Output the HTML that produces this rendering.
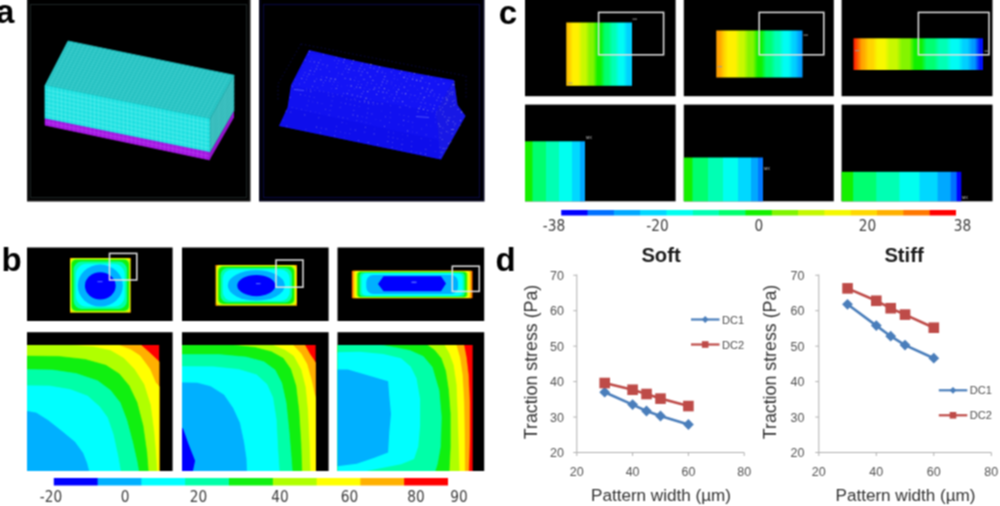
<!DOCTYPE html>
<html lang="en">
<head>
<meta charset="utf-8">
<title>Figure: traction stress finite element model</title>
<style>
html,body{margin:0;padding:0;background:#fff;}
body{width:1000px;height:506px;overflow:hidden;font-family:"Liberation Sans",sans-serif;}
svg{display:block;}
text{font-family:"Liberation Sans",sans-serif;}
.pl{font-size:33px;font-weight:bold;fill:#000;}
.cb{font-size:15.2px;fill:#3a3a3a;text-anchor:middle;font-family:"DejaVu Sans Condensed","Liberation Sans",sans-serif;}
.tk{font-size:12.5px;fill:#505050;text-anchor:middle;}
.lg{font-size:11px;fill:#4a4a4a;}
.ttl{font-size:20.2px;font-weight:bold;fill:#1a1a1a;text-anchor:middle;}
.axl{font-size:17.1px;fill:#303030;text-anchor:middle;}
.ayl{font-size:17.8px;}
</style>
</head>
<body>
<svg width="1000" height="506" viewBox="0 0 1000 506">
<defs>
<filter id="soft" filterUnits="userSpaceOnUse" x="0" y="0" width="1000" height="506" color-interpolation-filters="sRGB">
<feConvolveMatrix order="3" kernelMatrix="1 2 1 2 4 2 1 2 1" divisor="16" edgeMode="duplicate" preserveAlpha="true"/>
</filter>
</defs>
<g filter="url(#soft)">
<rect x="-5" y="-5" width="1010" height="516" fill="#fff"/>
<g id="panel-a">
<rect x="27.00" y="0.00" width="223.50" height="201.50" fill="#141414" />
<rect x="29.00" y="0.00" width="219.50" height="199.50" fill="#000" />
<rect x="30.5" y="4.5" width="216" height="193" fill="none" stroke="#1c2424" stroke-width="1"/>
<polygon points="68.0,41.0 234.0,75.2 210.0,119.0 45.0,85.5" fill="#20bebe" stroke="#20bebe" stroke-width="0.8"/>
<path d="M49.1 86.3L72.2 41.9M53.2 87.2L76.3 42.7M57.4 88.0L80.5 43.6M61.5 88.8L84.6 44.4M65.6 89.7L88.8 45.3M69.8 90.5L92.9 46.1M73.9 91.4L97.0 47.0M78.0 92.2L101.2 47.8M82.1 93.0L105.3 48.7M86.2 93.9L109.5 49.5M90.4 94.7L113.7 50.4M94.5 95.5L117.8 51.3M98.6 96.4L122.0 52.1M102.8 97.2L126.1 53.0M106.9 98.1L130.2 53.8M111.0 98.9L134.4 54.7M115.1 99.7L138.6 55.5M119.2 100.6L142.7 56.4M123.4 101.4L146.8 57.2M127.5 102.2L151.0 58.1M131.6 103.1L155.2 59.0M135.8 103.9L159.3 59.8M139.9 104.8L163.4 60.7M144.0 105.6L167.6 61.5M148.1 106.4L171.8 62.4M152.2 107.3L175.9 63.2M156.4 108.1L180.1 64.1M160.5 109.0L184.2 64.9M164.6 109.8L188.3 65.8M168.8 110.6L192.5 66.7M172.9 111.5L196.7 67.5M177.0 112.3L200.8 68.4M181.1 113.1L204.9 69.2M185.2 114.0L209.1 70.1M189.4 114.8L213.2 70.9M193.5 115.7L217.4 71.8M197.6 116.5L221.6 72.6M201.8 117.3L225.7 73.5M205.9 118.2L229.8 74.3M46.1 83.3L211.2 116.8M47.3 81.0L212.4 114.6M48.5 78.8L213.6 112.4M49.6 76.6L214.8 110.2M50.8 74.4L216.0 108.0M51.9 72.2L217.2 105.9M53.0 69.9L218.4 103.7M54.2 67.7L219.6 101.5M55.4 65.5L220.8 99.3M56.5 63.2L222.0 97.1M57.6 61.0L223.2 94.9M58.8 58.8L224.4 92.7M60.0 56.6L225.6 90.5M61.1 54.4L226.8 88.3M62.2 52.1L228.0 86.2M63.4 49.9L229.2 84.0M64.5 47.7L230.4 81.8M65.7 45.4L231.6 79.6M66.8 43.2L232.8 77.4" stroke="#70e8e8" stroke-width="0.6" opacity="0.5" fill="none"/>
<polygon points="45.0,85.5 210.0,119.0 210.0,152.4 45.0,118.8" fill="#1fe0e0" stroke="#1fe0e0" stroke-width="0.8"/>
<path d="M49.1 86.3L49.1 119.6M53.2 87.2L53.2 120.5M57.4 88.0L57.4 121.3M61.5 88.8L61.5 122.2M65.6 89.7L65.6 123.0M69.8 90.5L69.8 123.8M73.9 91.4L73.9 124.7M78.0 92.2L78.0 125.5M82.1 93.0L82.1 126.4M86.2 93.9L86.2 127.2M90.4 94.7L90.4 128.0M94.5 95.5L94.5 128.9M98.6 96.4L98.6 129.7M102.8 97.2L102.8 130.6M106.9 98.1L106.9 131.4M111.0 98.9L111.0 132.2M115.1 99.7L115.1 133.1M119.2 100.6L119.2 133.9M123.4 101.4L123.4 134.8M127.5 102.2L127.5 135.6M131.6 103.1L131.6 136.4M135.8 103.9L135.8 137.3M139.9 104.8L139.9 138.1M144.0 105.6L144.0 139.0M148.1 106.4L148.1 139.8M152.2 107.3L152.2 140.6M156.4 108.1L156.4 141.5M160.5 109.0L160.5 142.3M164.6 109.8L164.6 143.2M168.8 110.6L168.8 144.0M172.9 111.5L172.9 144.8M177.0 112.3L177.0 145.7M181.1 113.1L181.1 146.5M185.2 114.0L185.2 147.4M189.4 114.8L189.4 148.2M193.5 115.7L193.5 149.0M197.6 116.5L197.6 149.9M201.8 117.3L201.8 150.7M205.9 118.2L205.9 151.6M45.0 89.7L210.0 123.2M45.0 93.8L210.0 127.3M45.0 98.0L210.0 131.5M45.0 102.2L210.0 135.7M45.0 106.3L210.0 139.9M45.0 110.5L210.0 144.1M45.0 114.6L210.0 148.2" stroke="#aaffff" stroke-width="0.5" opacity="0.5" fill="none"/>
<polygon points="45.0,118.8 210.0,152.4 209.6,160.0 45.0,125.2" fill="#a416e2" stroke="#a416e2" stroke-width="0.6"/>
<path d="M49.1 119.6L49.1 126.1M53.2 120.5L53.2 126.9M57.4 121.3L57.3 127.8M61.5 122.2L61.5 128.7M65.6 123.0L65.6 129.6M69.8 123.8L69.7 130.4M73.9 124.7L73.8 131.3M78.0 125.5L77.9 132.2M82.1 126.4L82.0 133.0M86.2 127.2L86.2 133.9M90.4 128.0L90.3 134.8M94.5 128.9L94.4 135.6M98.6 129.7L98.5 136.5M102.8 130.6L102.6 137.4M106.9 131.4L106.7 138.2M111.0 132.2L110.8 139.1M115.1 133.1L115.0 140.0M119.2 133.9L119.1 140.9M123.4 134.8L123.2 141.7M127.5 135.6L127.3 142.6M131.6 136.4L131.4 143.5M135.8 137.3L135.5 144.3M139.9 138.1L139.6 145.2M144.0 139.0L143.8 146.1M148.1 139.8L147.9 146.9M152.2 140.6L152.0 147.8M156.4 141.5L156.1 148.7M160.5 142.3L160.2 149.6M164.6 143.2L164.3 150.4M168.8 144.0L168.4 151.3M172.9 144.8L172.6 152.2M177.0 145.7L176.7 153.0M181.1 146.5L180.8 153.9M185.2 147.4L184.9 154.8M189.4 148.2L189.0 155.7M193.5 149.0L193.1 156.5M197.6 149.9L197.3 157.4M201.8 150.7L201.4 158.3M205.9 151.6L205.5 159.1M45.0 122.0L209.8 156.2" stroke="#d070ff" stroke-width="0.5" opacity="0.5" fill="none"/>
<polygon points="210.0,119.0 234.0,75.2 234.0,111.0 210.0,152.4" fill="#23b0b0" stroke="#23b0b0" stroke-width="0.6"/>
<path d="M211.2 116.8L211.2 150.3M212.4 114.6L212.4 148.3M213.6 112.4L213.6 146.2M214.8 110.2L214.8 144.1M216.0 108.0L216.0 142.1M217.2 105.9L217.2 140.0M218.4 103.7L218.4 137.9M219.6 101.5L219.6 135.8M220.8 99.3L220.8 133.8M222.0 97.1L222.0 131.7M223.2 94.9L223.2 129.6M224.4 92.7L224.4 127.6M225.6 90.5L225.6 125.5M226.8 88.3L226.8 123.4M228.0 86.2L228.0 121.3M229.2 84.0L229.2 119.3M230.4 81.8L230.4 117.2M231.6 79.6L231.6 115.1M232.8 77.4L232.8 113.1M210.0 123.2L234.0 79.7M210.0 127.3L234.0 84.2M210.0 131.5L234.0 88.6M210.0 135.7L234.0 93.1M210.0 139.9L234.0 97.6M210.0 144.1L234.0 102.0M210.0 148.2L234.0 106.5" stroke="#70e0e0" stroke-width="0.5" opacity="0.55" fill="none"/>
<polygon points="210.0,152.4 234.0,111.0 234.0,117.6 209.6,160.0" fill="#9414cc" />
<rect x="259.00" y="0.00" width="225.50" height="201.50" fill="#04041a" />
<rect x="261.00" y="0.00" width="221.50" height="199.50" fill="#000" />
<rect x="263.5" y="4.5" width="216" height="193" fill="none" stroke="#08083c" stroke-width="1.2"/>
<path d="M309 50Q380 67.5 454 80L457.5 105L465.5 116L441 159.5L279 126L287.5 107.5L291 85Z" fill="#1111f0"/>
<path d="M301 44L466 76L466 98M301 44L278 84L278 100" stroke="#0a0a58" stroke-width="1" fill="none" stroke-dasharray="1.5 2.5" opacity=".8"/>
<polygon points="311.0,53.0 452.0,82.0 436.0,112.0 292.0,86.0" fill="#1a1aff" opacity="0.35"/>
<polygon points="287.5,107.5 438.0,140.0 441.0,159.5 279.0,126.0" fill="#0c0ce4" opacity="0.45"/>
<polygon points="454.0,80.0 457.5,105.0 465.5,116.0 441.0,159.5 436.0,112.0" fill="#2222d8" opacity="0.45"/>
<g fill="#c8c8d8">
<circle cx="292.6" cy="86.2" r="0.45" opacity="0.62"/>
<circle cx="294.5" cy="83.7" r="0.45" opacity="0.27"/>
<circle cx="295.3" cy="79.8" r="0.55" opacity="0.28"/>
<circle cx="303.0" cy="65.6" r="0.45" opacity="0.27"/>
<circle cx="305.3" cy="60.0" r="0.55" opacity="0.50"/>
<circle cx="308.7" cy="54.5" r="0.45" opacity="0.50"/>
<circle cx="309.5" cy="51.6" r="0.70" opacity="0.49"/>
<circle cx="299.4" cy="83.9" r="0.45" opacity="0.61"/>
<circle cx="301.8" cy="78.4" r="0.55" opacity="0.58"/>
<circle cx="303.7" cy="75.1" r="0.55" opacity="0.32"/>
<circle cx="305.0" cy="72.6" r="0.70" opacity="0.28"/>
<circle cx="310.0" cy="61.4" r="0.55" opacity="0.28"/>
<circle cx="311.3" cy="58.8" r="0.45" opacity="0.28"/>
<circle cx="304.6" cy="82.4" r="0.45" opacity="0.67"/>
<circle cx="306.2" cy="79.3" r="0.45" opacity="0.60"/>
<circle cx="307.2" cy="76.4" r="0.55" opacity="0.29"/>
<circle cx="309.0" cy="74.1" r="0.55" opacity="0.64"/>
<circle cx="310.2" cy="70.6" r="0.55" opacity="0.68"/>
<circle cx="311.3" cy="67.7" r="0.45" opacity="0.26"/>
<circle cx="314.3" cy="61.9" r="0.70" opacity="0.42"/>
<circle cx="306.5" cy="88.9" r="0.45" opacity="0.46"/>
<circle cx="313.2" cy="74.5" r="0.55" opacity="0.28"/>
<circle cx="314.4" cy="71.3" r="0.55" opacity="0.52"/>
<circle cx="316.2" cy="68.9" r="0.55" opacity="0.53"/>
<circle cx="317.2" cy="65.9" r="0.70" opacity="0.36"/>
<circle cx="318.7" cy="62.8" r="0.55" opacity="0.70"/>
<circle cx="320.3" cy="59.9" r="0.45" opacity="0.59"/>
<circle cx="323.3" cy="54.7" r="0.45" opacity="0.68"/>
<circle cx="310.4" cy="89.7" r="0.45" opacity="0.59"/>
<circle cx="312.4" cy="86.3" r="0.55" opacity="0.48"/>
<circle cx="314.6" cy="81.2" r="0.70" opacity="0.40"/>
<circle cx="316.7" cy="78.9" r="0.45" opacity="0.61"/>
<circle cx="320.5" cy="69.6" r="0.45" opacity="0.70"/>
<circle cx="322.9" cy="64.3" r="0.55" opacity="0.45"/>
<circle cx="314.9" cy="90.2" r="0.45" opacity="0.40"/>
<circle cx="317.2" cy="87.8" r="0.45" opacity="0.47"/>
<circle cx="321.0" cy="79.7" r="0.70" opacity="0.59"/>
<circle cx="321.8" cy="76.7" r="0.55" opacity="0.29"/>
<circle cx="326.6" cy="67.4" r="0.45" opacity="0.33"/>
<circle cx="327.3" cy="65.5" r="0.70" opacity="0.32"/>
<circle cx="319.8" cy="91.0" r="0.45" opacity="0.61"/>
<circle cx="322.8" cy="85.4" r="0.45" opacity="0.62"/>
<circle cx="323.5" cy="82.7" r="0.45" opacity="0.59"/>
<circle cx="325.3" cy="80.5" r="0.45" opacity="0.66"/>
<circle cx="326.5" cy="77.4" r="0.70" opacity="0.44"/>
<circle cx="329.4" cy="71.6" r="0.45" opacity="0.64"/>
<circle cx="334.4" cy="60.4" r="0.45" opacity="0.50"/>
<circle cx="336.2" cy="57.5" r="0.45" opacity="0.65"/>
<circle cx="323.8" cy="91.8" r="0.45" opacity="0.48"/>
<circle cx="329.8" cy="81.0" r="0.70" opacity="0.34"/>
<circle cx="331.0" cy="78.6" r="0.70" opacity="0.67"/>
<circle cx="336.5" cy="67.4" r="0.55" opacity="0.31"/>
<circle cx="337.7" cy="63.5" r="0.45" opacity="0.44"/>
<circle cx="338.9" cy="60.7" r="0.45" opacity="0.67"/>
<circle cx="328.3" cy="92.8" r="0.55" opacity="0.35"/>
<circle cx="331.3" cy="88.2" r="0.45" opacity="0.32"/>
<circle cx="332.7" cy="84.6" r="0.45" opacity="0.41"/>
<circle cx="333.9" cy="81.7" r="0.55" opacity="0.45"/>
<circle cx="335.2" cy="79.3" r="0.70" opacity="0.68"/>
<circle cx="337.3" cy="75.9" r="0.45" opacity="0.29"/>
<circle cx="338.6" cy="73.1" r="0.45" opacity="0.62"/>
<circle cx="343.6" cy="62.1" r="0.55" opacity="0.57"/>
<circle cx="344.4" cy="59.5" r="0.55" opacity="0.65"/>
<circle cx="332.5" cy="93.7" r="0.55" opacity="0.29"/>
<circle cx="336.2" cy="88.5" r="0.55" opacity="0.70"/>
<circle cx="337.6" cy="85.8" r="0.45" opacity="0.49"/>
<circle cx="338.0" cy="82.4" r="0.45" opacity="0.33"/>
<circle cx="342.2" cy="74.3" r="0.70" opacity="0.33"/>
<circle cx="343.3" cy="71.2" r="0.45" opacity="0.26"/>
<circle cx="345.8" cy="68.7" r="0.45" opacity="0.67"/>
<circle cx="347.0" cy="65.8" r="0.55" opacity="0.50"/>
<circle cx="337.2" cy="94.8" r="0.45" opacity="0.62"/>
<circle cx="341.4" cy="86.1" r="0.45" opacity="0.26"/>
<circle cx="345.1" cy="78.3" r="0.55" opacity="0.64"/>
<circle cx="348.0" cy="72.2" r="0.55" opacity="0.33"/>
<circle cx="349.0" cy="69.4" r="0.55" opacity="0.69"/>
<circle cx="350.6" cy="67.3" r="0.55" opacity="0.35"/>
<circle cx="352.1" cy="63.4" r="0.55" opacity="0.48"/>
<circle cx="353.6" cy="60.5" r="0.55" opacity="0.62"/>
<circle cx="342.1" cy="95.9" r="0.55" opacity="0.39"/>
<circle cx="343.4" cy="93.2" r="0.45" opacity="0.55"/>
<circle cx="347.1" cy="85.2" r="0.45" opacity="0.38"/>
<circle cx="350.4" cy="79.3" r="0.70" opacity="0.53"/>
<circle cx="354.0" cy="70.5" r="0.45" opacity="0.62"/>
<circle cx="347.2" cy="93.6" r="0.55" opacity="0.68"/>
<circle cx="349.0" cy="90.7" r="0.45" opacity="0.53"/>
<circle cx="351.2" cy="85.9" r="0.70" opacity="0.67"/>
<circle cx="354.4" cy="80.2" r="0.55" opacity="0.36"/>
<circle cx="355.5" cy="77.4" r="0.45" opacity="0.35"/>
<circle cx="358.8" cy="70.9" r="0.70" opacity="0.38"/>
<circle cx="359.9" cy="68.2" r="0.70" opacity="0.32"/>
<circle cx="361.3" cy="65.5" r="0.70" opacity="0.31"/>
<circle cx="362.3" cy="63.5" r="0.45" opacity="0.56"/>
<circle cx="352.2" cy="94.9" r="0.55" opacity="0.60"/>
<circle cx="354.6" cy="88.8" r="0.55" opacity="0.26"/>
<circle cx="356.6" cy="87.0" r="0.55" opacity="0.70"/>
<circle cx="358.0" cy="84.2" r="0.45" opacity="0.51"/>
<circle cx="358.8" cy="81.4" r="0.45" opacity="0.52"/>
<circle cx="361.0" cy="75.0" r="0.55" opacity="0.65"/>
<circle cx="362.2" cy="71.7" r="0.55" opacity="0.56"/>
<circle cx="364.4" cy="69.4" r="0.55" opacity="0.39"/>
<circle cx="367.0" cy="64.2" r="0.45" opacity="0.67"/>
<circle cx="354.8" cy="99.0" r="0.55" opacity="0.42"/>
<circle cx="357.3" cy="96.0" r="0.55" opacity="0.67"/>
<circle cx="360.1" cy="87.6" r="0.70" opacity="0.67"/>
<circle cx="361.6" cy="84.6" r="0.45" opacity="0.60"/>
<circle cx="364.0" cy="79.2" r="0.55" opacity="0.66"/>
<circle cx="367.4" cy="72.7" r="0.70" opacity="0.43"/>
<circle cx="370.2" cy="67.5" r="0.70" opacity="0.31"/>
<circle cx="370.9" cy="64.5" r="0.70" opacity="0.58"/>
<circle cx="360.8" cy="96.8" r="0.70" opacity="0.43"/>
<circle cx="362.0" cy="93.6" r="0.55" opacity="0.50"/>
<circle cx="363.5" cy="91.4" r="0.55" opacity="0.31"/>
<circle cx="364.5" cy="88.1" r="0.45" opacity="0.39"/>
<circle cx="366.7" cy="85.1" r="0.45" opacity="0.59"/>
<circle cx="367.5" cy="82.7" r="0.55" opacity="0.37"/>
<circle cx="370.3" cy="76.8" r="0.70" opacity="0.48"/>
<circle cx="373.9" cy="68.2" r="0.55" opacity="0.54"/>
<circle cx="375.2" cy="66.0" r="0.45" opacity="0.31"/>
<circle cx="364.6" cy="100.9" r="0.70" opacity="0.47"/>
<circle cx="366.1" cy="98.2" r="0.70" opacity="0.63"/>
<circle cx="367.7" cy="91.6" r="0.70" opacity="0.69"/>
<circle cx="369.8" cy="89.5" r="0.55" opacity="0.29"/>
<circle cx="371.6" cy="83.6" r="0.45" opacity="0.54"/>
<circle cx="372.9" cy="80.4" r="0.70" opacity="0.45"/>
<circle cx="375.7" cy="75.6" r="0.45" opacity="0.42"/>
<circle cx="377.3" cy="71.6" r="0.55" opacity="0.70"/>
<circle cx="378.3" cy="69.8" r="0.45" opacity="0.46"/>
<circle cx="379.5" cy="67.1" r="0.70" opacity="0.54"/>
<circle cx="368.4" cy="101.9" r="0.70" opacity="0.44"/>
<circle cx="370.2" cy="99.1" r="0.45" opacity="0.47"/>
<circle cx="373.8" cy="89.5" r="0.55" opacity="0.58"/>
<circle cx="374.8" cy="87.9" r="0.55" opacity="0.59"/>
<circle cx="376.4" cy="84.2" r="0.55" opacity="0.30"/>
<circle cx="382.1" cy="72.6" r="0.70" opacity="0.32"/>
<circle cx="382.5" cy="70.9" r="0.45" opacity="0.44"/>
<circle cx="373.1" cy="102.6" r="0.55" opacity="0.58"/>
<circle cx="376.6" cy="94.4" r="0.70" opacity="0.46"/>
<circle cx="378.6" cy="91.4" r="0.55" opacity="0.45"/>
<circle cx="379.1" cy="87.7" r="0.55" opacity="0.68"/>
<circle cx="381.4" cy="85.0" r="0.55" opacity="0.60"/>
<circle cx="382.5" cy="82.0" r="0.70" opacity="0.46"/>
<circle cx="383.9" cy="79.3" r="0.55" opacity="0.58"/>
<circle cx="384.9" cy="76.6" r="0.70" opacity="0.60"/>
<circle cx="385.4" cy="73.5" r="0.45" opacity="0.37"/>
<circle cx="377.4" cy="103.8" r="0.70" opacity="0.27"/>
<circle cx="383.0" cy="92.1" r="0.70" opacity="0.68"/>
<circle cx="384.4" cy="88.6" r="0.70" opacity="0.68"/>
<circle cx="386.2" cy="83.4" r="0.55" opacity="0.31"/>
<circle cx="387.2" cy="81.1" r="0.55" opacity="0.62"/>
<circle cx="391.4" cy="71.9" r="0.70" opacity="0.29"/>
<circle cx="393.2" cy="69.0" r="0.45" opacity="0.54"/>
<circle cx="382.1" cy="103.8" r="0.55" opacity="0.65"/>
<circle cx="384.1" cy="98.0" r="0.55" opacity="0.69"/>
<circle cx="386.7" cy="92.8" r="0.70" opacity="0.36"/>
<circle cx="388.7" cy="90.3" r="0.55" opacity="0.38"/>
<circle cx="391.2" cy="84.0" r="0.45" opacity="0.33"/>
<circle cx="391.9" cy="82.0" r="0.45" opacity="0.40"/>
<circle cx="394.1" cy="78.7" r="0.45" opacity="0.54"/>
<circle cx="394.7" cy="75.3" r="0.45" opacity="0.46"/>
<circle cx="387.6" cy="101.8" r="0.45" opacity="0.52"/>
<circle cx="389.8" cy="96.6" r="0.45" opacity="0.45"/>
<circle cx="391.9" cy="94.3" r="0.45" opacity="0.54"/>
<circle cx="393.5" cy="87.9" r="0.45" opacity="0.34"/>
<circle cx="395.5" cy="85.4" r="0.45" opacity="0.62"/>
<circle cx="397.7" cy="79.7" r="0.45" opacity="0.34"/>
<circle cx="399.9" cy="73.4" r="0.55" opacity="0.55"/>
<circle cx="401.7" cy="71.3" r="0.55" opacity="0.56"/>
<circle cx="390.7" cy="105.8" r="0.45" opacity="0.39"/>
<circle cx="393.4" cy="100.8" r="0.55" opacity="0.54"/>
<circle cx="394.6" cy="98.0" r="0.55" opacity="0.66"/>
<circle cx="396.4" cy="94.6" r="0.55" opacity="0.46"/>
<circle cx="396.7" cy="91.9" r="0.70" opacity="0.61"/>
<circle cx="398.6" cy="89.5" r="0.70" opacity="0.48"/>
<circle cx="399.5" cy="86.2" r="0.45" opacity="0.30"/>
<circle cx="401.4" cy="83.9" r="0.45" opacity="0.39"/>
<circle cx="404.0" cy="77.4" r="0.70" opacity="0.67"/>
<circle cx="405.2" cy="75.0" r="0.45" opacity="0.54"/>
<circle cx="397.9" cy="101.3" r="0.45" opacity="0.43"/>
<circle cx="399.0" cy="98.0" r="0.45" opacity="0.69"/>
<circle cx="402.1" cy="93.2" r="0.70" opacity="0.27"/>
<circle cx="404.3" cy="87.1" r="0.70" opacity="0.60"/>
<circle cx="406.3" cy="81.3" r="0.55" opacity="0.45"/>
<circle cx="407.3" cy="78.7" r="0.55" opacity="0.46"/>
<circle cx="409.3" cy="76.1" r="0.45" opacity="0.61"/>
<circle cx="409.8" cy="72.7" r="0.55" opacity="0.29"/>
<circle cx="399.9" cy="107.3" r="0.70" opacity="0.31"/>
<circle cx="402.6" cy="101.6" r="0.70" opacity="0.65"/>
<circle cx="405.6" cy="93.8" r="0.70" opacity="0.62"/>
<circle cx="407.9" cy="90.8" r="0.45" opacity="0.56"/>
<circle cx="410.2" cy="85.3" r="0.55" opacity="0.32"/>
<circle cx="412.6" cy="79.1" r="0.70" opacity="0.68"/>
<circle cx="413.6" cy="76.8" r="0.45" opacity="0.39"/>
<circle cx="414.3" cy="73.4" r="0.55" opacity="0.56"/>
<circle cx="405.9" cy="105.4" r="0.70" opacity="0.27"/>
<circle cx="409.3" cy="97.6" r="0.45" opacity="0.36"/>
<circle cx="410.9" cy="94.8" r="0.55" opacity="0.37"/>
<circle cx="414.5" cy="86.0" r="0.45" opacity="0.53"/>
<circle cx="416.7" cy="80.2" r="0.70" opacity="0.67"/>
<circle cx="409.8" cy="107.0" r="0.55" opacity="0.48"/>
<circle cx="412.1" cy="101.3" r="0.45" opacity="0.27"/>
<circle cx="414.9" cy="95.5" r="0.55" opacity="0.51"/>
<circle cx="417.5" cy="89.8" r="0.45" opacity="0.26"/>
<circle cx="420.5" cy="80.9" r="0.70" opacity="0.60"/>
<circle cx="422.0" cy="77.9" r="0.70" opacity="0.62"/>
<circle cx="416.9" cy="101.6" r="0.45" opacity="0.27"/>
<circle cx="418.0" cy="98.9" r="0.45" opacity="0.66"/>
<circle cx="419.5" cy="96.6" r="0.45" opacity="0.31"/>
<circle cx="420.7" cy="93.6" r="0.70" opacity="0.44"/>
<circle cx="422.4" cy="88.0" r="0.70" opacity="0.60"/>
<circle cx="425.8" cy="82.5" r="0.55" opacity="0.29"/>
<circle cx="428.4" cy="76.3" r="0.70" opacity="0.27"/>
<circle cx="418.0" cy="111.7" r="0.55" opacity="0.57"/>
<circle cx="419.0" cy="108.5" r="0.70" opacity="0.69"/>
<circle cx="420.7" cy="106.3" r="0.45" opacity="0.65"/>
<circle cx="421.1" cy="102.6" r="0.70" opacity="0.34"/>
<circle cx="423.0" cy="99.8" r="0.55" opacity="0.40"/>
<circle cx="424.2" cy="97.4" r="0.70" opacity="0.69"/>
<circle cx="426.1" cy="91.7" r="0.45" opacity="0.64"/>
<circle cx="427.6" cy="88.9" r="0.55" opacity="0.61"/>
<circle cx="428.7" cy="86.0" r="0.45" opacity="0.32"/>
<circle cx="429.3" cy="83.6" r="0.55" opacity="0.69"/>
<circle cx="431.7" cy="77.6" r="0.45" opacity="0.56"/>
<circle cx="423.5" cy="109.4" r="0.70" opacity="0.65"/>
<circle cx="425.0" cy="107.2" r="0.55" opacity="0.30"/>
<circle cx="425.3" cy="103.3" r="0.70" opacity="0.29"/>
<circle cx="428.9" cy="95.7" r="0.70" opacity="0.34"/>
<circle cx="430.5" cy="92.0" r="0.55" opacity="0.67"/>
<circle cx="432.1" cy="90.2" r="0.70" opacity="0.48"/>
<circle cx="435.2" cy="81.1" r="0.45" opacity="0.41"/>
<circle cx="426.3" cy="113.7" r="0.45" opacity="0.51"/>
<circle cx="427.7" cy="110.5" r="0.55" opacity="0.59"/>
<circle cx="430.2" cy="104.8" r="0.45" opacity="0.69"/>
<circle cx="433.9" cy="95.9" r="0.45" opacity="0.67"/>
<circle cx="434.6" cy="94.0" r="0.45" opacity="0.47"/>
<circle cx="438.3" cy="84.5" r="0.55" opacity="0.65"/>
<circle cx="441.1" cy="79.1" r="0.55" opacity="0.37"/>
<circle cx="432.1" cy="111.8" r="0.45" opacity="0.67"/>
<circle cx="433.6" cy="108.7" r="0.70" opacity="0.54"/>
<circle cx="434.4" cy="105.3" r="0.55" opacity="0.55"/>
<circle cx="436.9" cy="100.3" r="0.70" opacity="0.35"/>
<circle cx="438.4" cy="97.4" r="0.70" opacity="0.34"/>
<circle cx="439.6" cy="94.8" r="0.45" opacity="0.58"/>
<circle cx="443.8" cy="83.6" r="0.55" opacity="0.69"/>
<circle cx="436.1" cy="114.6" r="0.55" opacity="0.32"/>
<circle cx="436.5" cy="112.0" r="0.55" opacity="0.34"/>
<circle cx="438.7" cy="106.5" r="0.45" opacity="0.26"/>
<circle cx="441.1" cy="101.5" r="0.55" opacity="0.46"/>
<circle cx="442.7" cy="98.0" r="0.70" opacity="0.36"/>
<circle cx="444.3" cy="104.2" r="0.55" opacity="0.39"/>
<circle cx="446.9" cy="99.3" r="0.70" opacity="0.57"/>
<circle cx="448.6" cy="96.1" r="0.45" opacity="0.53"/>
<circle cx="449.5" cy="93.8" r="0.45" opacity="0.65"/>
<circle cx="449.9" cy="90.9" r="0.45" opacity="0.27"/>
<circle cx="451.3" cy="88.0" r="0.45" opacity="0.48"/>
<circle cx="452.9" cy="84.9" r="0.70" opacity="0.46"/>
<circle cx="454.4" cy="81.8" r="0.55" opacity="0.43"/>
<circle cx="283.4" cy="120.4" r="0.45" opacity="0.34"/>
<circle cx="286.1" cy="111.1" r="0.55" opacity="0.42"/>
<circle cx="288.9" cy="101.9" r="0.45" opacity="0.20"/>
<circle cx="290.2" cy="97.2" r="0.55" opacity="0.42"/>
<circle cx="286.8" cy="126.0" r="0.55" opacity="0.46"/>
<circle cx="290.8" cy="112.1" r="0.55" opacity="0.36"/>
<circle cx="292.1" cy="107.4" r="0.45" opacity="0.48"/>
<circle cx="297.5" cy="88.9" r="0.45" opacity="0.32"/>
<circle cx="296.7" cy="108.4" r="0.45" opacity="0.47"/>
<circle cx="300.6" cy="94.5" r="0.55" opacity="0.44"/>
<circle cx="301.4" cy="109.3" r="0.55" opacity="0.31"/>
<circle cx="305.1" cy="95.4" r="0.55" opacity="0.25"/>
<circle cx="306.4" cy="90.7" r="0.55" opacity="0.22"/>
<circle cx="304.8" cy="114.9" r="0.55" opacity="0.42"/>
<circle cx="306.0" cy="110.3" r="0.45" opacity="0.27"/>
<circle cx="307.2" cy="105.6" r="0.55" opacity="0.29"/>
<circle cx="308.4" cy="100.9" r="0.45" opacity="0.50"/>
<circle cx="309.6" cy="96.3" r="0.55" opacity="0.32"/>
<circle cx="310.8" cy="91.6" r="0.55" opacity="0.48"/>
<circle cx="305.9" cy="129.8" r="0.45" opacity="0.43"/>
<circle cx="310.6" cy="111.2" r="0.45" opacity="0.39"/>
<circle cx="312.9" cy="101.9" r="0.45" opacity="0.39"/>
<circle cx="314.1" cy="97.2" r="0.45" opacity="0.49"/>
<circle cx="315.2" cy="112.1" r="0.45" opacity="0.39"/>
<circle cx="317.5" cy="102.8" r="0.55" opacity="0.36"/>
<circle cx="316.6" cy="127.1" r="0.55" opacity="0.55"/>
<circle cx="318.8" cy="117.8" r="0.55" opacity="0.42"/>
<circle cx="319.8" cy="113.1" r="0.45" opacity="0.44"/>
<circle cx="322.0" cy="103.7" r="0.45" opacity="0.38"/>
<circle cx="320.3" cy="132.8" r="0.55" opacity="0.42"/>
<circle cx="321.3" cy="128.1" r="0.55" opacity="0.32"/>
<circle cx="325.5" cy="109.3" r="0.55" opacity="0.35"/>
<circle cx="328.6" cy="95.3" r="0.55" opacity="0.34"/>
<circle cx="326.1" cy="129.0" r="0.55" opacity="0.54"/>
<circle cx="329.1" cy="115.0" r="0.55" opacity="0.45"/>
<circle cx="330.1" cy="110.3" r="0.45" opacity="0.47"/>
<circle cx="331.1" cy="105.6" r="0.55" opacity="0.39"/>
<circle cx="332.1" cy="100.9" r="0.55" opacity="0.24"/>
<circle cx="333.1" cy="96.2" r="0.55" opacity="0.41"/>
<circle cx="334.7" cy="135.7" r="0.55" opacity="0.42"/>
<circle cx="335.6" cy="131.0" r="0.45" opacity="0.50"/>
<circle cx="336.5" cy="126.2" r="0.45" opacity="0.52"/>
<circle cx="338.3" cy="116.8" r="0.45" opacity="0.48"/>
<circle cx="340.2" cy="107.4" r="0.55" opacity="0.26"/>
<circle cx="341.1" cy="102.7" r="0.45" opacity="0.35"/>
<circle cx="340.3" cy="131.9" r="0.45" opacity="0.49"/>
<circle cx="342.1" cy="122.5" r="0.55" opacity="0.36"/>
<circle cx="343.0" cy="117.8" r="0.55" opacity="0.41"/>
<circle cx="345.6" cy="103.6" r="0.55" opacity="0.39"/>
<circle cx="346.5" cy="98.9" r="0.55" opacity="0.27"/>
<circle cx="344.2" cy="137.6" r="0.45" opacity="0.35"/>
<circle cx="345.1" cy="132.9" r="0.45" opacity="0.55"/>
<circle cx="346.7" cy="123.4" r="0.45" opacity="0.25"/>
<circle cx="347.6" cy="118.7" r="0.45" opacity="0.36"/>
<circle cx="350.1" cy="104.5" r="0.45" opacity="0.46"/>
<circle cx="350.9" cy="99.8" r="0.55" opacity="0.36"/>
<circle cx="349.8" cy="133.8" r="0.45" opacity="0.45"/>
<circle cx="350.6" cy="129.1" r="0.45" opacity="0.51"/>
<circle cx="353.0" cy="114.9" r="0.55" opacity="0.46"/>
<circle cx="353.8" cy="110.2" r="0.55" opacity="0.41"/>
<circle cx="354.6" cy="105.5" r="0.55" opacity="0.36"/>
<circle cx="355.4" cy="100.7" r="0.45" opacity="0.33"/>
<circle cx="355.3" cy="130.1" r="0.55" opacity="0.47"/>
<circle cx="356.8" cy="120.6" r="0.55" opacity="0.30"/>
<circle cx="357.6" cy="115.9" r="0.55" opacity="0.50"/>
<circle cx="359.1" cy="106.4" r="0.45" opacity="0.41"/>
<circle cx="359.8" cy="101.6" r="0.55" opacity="0.54"/>
<circle cx="358.6" cy="140.5" r="0.55" opacity="0.44"/>
<circle cx="361.4" cy="121.5" r="0.45" opacity="0.31"/>
<circle cx="362.1" cy="116.8" r="0.45" opacity="0.41"/>
<circle cx="364.3" cy="102.5" r="0.45" opacity="0.48"/>
<circle cx="364.7" cy="132.0" r="0.55" opacity="0.32"/>
<circle cx="365.4" cy="127.2" r="0.55" opacity="0.48"/>
<circle cx="366.1" cy="122.5" r="0.45" opacity="0.31"/>
<circle cx="366.7" cy="117.7" r="0.55" opacity="0.36"/>
<circle cx="367.4" cy="113.0" r="0.55" opacity="0.41"/>
<circle cx="368.1" cy="108.2" r="0.55" opacity="0.36"/>
<circle cx="368.7" cy="103.5" r="0.55" opacity="0.47"/>
<circle cx="368.2" cy="142.5" r="0.55" opacity="0.51"/>
<circle cx="370.7" cy="123.4" r="0.45" opacity="0.23"/>
<circle cx="371.9" cy="113.9" r="0.55" opacity="0.34"/>
<circle cx="373.2" cy="104.4" r="0.45" opacity="0.52"/>
<circle cx="374.1" cy="133.9" r="0.55" opacity="0.48"/>
<circle cx="374.7" cy="129.1" r="0.45" opacity="0.32"/>
<circle cx="375.9" cy="119.6" r="0.45" opacity="0.27"/>
<circle cx="377.8" cy="144.4" r="0.55" opacity="0.35"/>
<circle cx="380.5" cy="120.5" r="0.45" opacity="0.32"/>
<circle cx="381.5" cy="111.0" r="0.45" opacity="0.22"/>
<circle cx="384.5" cy="126.2" r="0.55" opacity="0.52"/>
<circle cx="385.5" cy="116.7" r="0.55" opacity="0.40"/>
<circle cx="387.8" cy="141.5" r="0.55" opacity="0.50"/>
<circle cx="388.2" cy="136.8" r="0.45" opacity="0.55"/>
<circle cx="388.7" cy="132.0" r="0.45" opacity="0.53"/>
<circle cx="389.6" cy="122.4" r="0.45" opacity="0.49"/>
<circle cx="390.1" cy="117.6" r="0.55" opacity="0.22"/>
<circle cx="390.5" cy="112.8" r="0.45" opacity="0.53"/>
<circle cx="392.1" cy="147.3" r="0.55" opacity="0.47"/>
<circle cx="392.5" cy="142.5" r="0.55" opacity="0.33"/>
<circle cx="393.0" cy="137.7" r="0.55" opacity="0.37"/>
<circle cx="393.4" cy="132.9" r="0.45" opacity="0.48"/>
<circle cx="396.9" cy="148.3" r="0.45" opacity="0.23"/>
<circle cx="397.7" cy="138.7" r="0.45" opacity="0.47"/>
<circle cx="398.8" cy="124.2" r="0.45" opacity="0.42"/>
<circle cx="399.5" cy="114.6" r="0.45" opacity="0.37"/>
<circle cx="401.7" cy="149.2" r="0.45" opacity="0.46"/>
<circle cx="402.0" cy="144.4" r="0.55" opacity="0.39"/>
<circle cx="402.4" cy="139.6" r="0.45" opacity="0.29"/>
<circle cx="402.7" cy="134.8" r="0.45" opacity="0.21"/>
<circle cx="403.4" cy="125.2" r="0.45" opacity="0.29"/>
<circle cx="403.7" cy="120.4" r="0.55" opacity="0.52"/>
<circle cx="404.0" cy="115.5" r="0.45" opacity="0.42"/>
<circle cx="407.4" cy="135.7" r="0.45" opacity="0.54"/>
<circle cx="407.7" cy="130.9" r="0.55" opacity="0.55"/>
<circle cx="408.2" cy="121.3" r="0.55" opacity="0.35"/>
<circle cx="408.5" cy="116.5" r="0.55" opacity="0.25"/>
<circle cx="411.3" cy="151.2" r="0.55" opacity="0.38"/>
<circle cx="411.5" cy="146.4" r="0.55" opacity="0.27"/>
<circle cx="411.8" cy="141.5" r="0.55" opacity="0.28"/>
<circle cx="412.3" cy="131.9" r="0.45" opacity="0.38"/>
<circle cx="412.5" cy="127.0" r="0.45" opacity="0.27"/>
<circle cx="412.8" cy="122.2" r="0.45" opacity="0.51"/>
<circle cx="416.1" cy="152.2" r="0.45" opacity="0.41"/>
<circle cx="416.9" cy="132.8" r="0.45" opacity="0.44"/>
<circle cx="420.8" cy="153.1" r="0.55" opacity="0.49"/>
<circle cx="421.3" cy="138.6" r="0.55" opacity="0.25"/>
<circle cx="421.7" cy="128.9" r="0.55" opacity="0.21"/>
<circle cx="425.6" cy="154.1" r="0.55" opacity="0.54"/>
<circle cx="425.8" cy="149.2" r="0.55" opacity="0.45"/>
<circle cx="426.1" cy="134.7" r="0.55" opacity="0.40"/>
<circle cx="426.4" cy="125.0" r="0.45" opacity="0.53"/>
<circle cx="430.6" cy="145.3" r="0.45" opacity="0.28"/>
<circle cx="430.7" cy="140.5" r="0.45" opacity="0.31"/>
<circle cx="430.9" cy="125.9" r="0.45" opacity="0.29"/>
<circle cx="435.3" cy="151.2" r="0.55" opacity="0.24"/>
<circle cx="435.4" cy="136.6" r="0.45" opacity="0.36"/>
<circle cx="435.5" cy="122.0" r="0.45" opacity="0.34"/>
<circle cx="435.5" cy="117.1" r="0.45" opacity="0.50"/>
<circle cx="440.0" cy="157.0" r="0.55" opacity="0.46"/>
<circle cx="440.0" cy="152.1" r="0.45" opacity="0.53"/>
<circle cx="440.0" cy="147.2" r="0.55" opacity="0.41"/>
<circle cx="440.0" cy="137.5" r="0.45" opacity="0.47"/>
<circle cx="440.0" cy="132.6" r="0.45" opacity="0.49"/>
<circle cx="447.6" cy="124.4" r="0.50" opacity="0.45"/>
<circle cx="441.5" cy="133.0" r="0.50" opacity="0.46"/>
<circle cx="442.5" cy="107.4" r="0.50" opacity="0.39"/>
<circle cx="454.1" cy="100.2" r="0.50" opacity="0.49"/>
<circle cx="453.0" cy="129.2" r="0.50" opacity="0.66"/>
<circle cx="440.7" cy="109.0" r="0.50" opacity="0.38"/>
<circle cx="440.0" cy="126.5" r="0.50" opacity="0.72"/>
<circle cx="448.6" cy="120.8" r="0.50" opacity="0.70"/>
<circle cx="460.0" cy="125.6" r="0.50" opacity="0.42"/>
<circle cx="444.9" cy="116.7" r="0.50" opacity="0.61"/>
<circle cx="443.3" cy="111.8" r="0.50" opacity="0.55"/>
<circle cx="446.8" cy="148.2" r="0.50" opacity="0.44"/>
<circle cx="449.5" cy="143.0" r="0.50" opacity="0.31"/>
<circle cx="446.0" cy="97.6" r="0.50" opacity="0.55"/>
<circle cx="461.3" cy="112.5" r="0.50" opacity="0.72"/>
<circle cx="441.9" cy="152.5" r="0.50" opacity="0.45"/>
<circle cx="445.8" cy="103.4" r="0.50" opacity="0.70"/>
<circle cx="438.5" cy="123.7" r="0.50" opacity="0.57"/>
<circle cx="446.4" cy="131.4" r="0.50" opacity="0.53"/>
<circle cx="458.0" cy="109.5" r="0.50" opacity="0.64"/>
<circle cx="448.0" cy="132.1" r="0.50" opacity="0.36"/>
<circle cx="442.9" cy="128.0" r="0.50" opacity="0.42"/>
<circle cx="453.1" cy="129.5" r="0.50" opacity="0.62"/>
<circle cx="447.9" cy="91.4" r="0.50" opacity="0.48"/>
<circle cx="451.2" cy="92.5" r="0.50" opacity="0.48"/>
<circle cx="452.9" cy="92.0" r="0.50" opacity="0.68"/>
<circle cx="454.6" cy="104.7" r="0.50" opacity="0.46"/>
<circle cx="446.5" cy="121.9" r="0.50" opacity="0.57"/>
<circle cx="453.6" cy="84.5" r="0.50" opacity="0.64"/>
<circle cx="461.8" cy="111.4" r="0.50" opacity="0.44"/>
<circle cx="450.9" cy="141.8" r="0.50" opacity="0.50"/>
<circle cx="447.0" cy="100.7" r="0.50" opacity="0.67"/>
<circle cx="452.6" cy="101.5" r="0.50" opacity="0.45"/>
<circle cx="444.2" cy="148.5" r="0.50" opacity="0.43"/>
<circle cx="450.9" cy="106.5" r="0.50" opacity="0.58"/>
<circle cx="448.5" cy="143.4" r="0.50" opacity="0.63"/>
<circle cx="448.3" cy="117.4" r="0.50" opacity="0.32"/>
<circle cx="454.2" cy="116.6" r="0.50" opacity="0.30"/>
<circle cx="447.8" cy="120.1" r="0.50" opacity="0.59"/>
<circle cx="442.5" cy="114.3" r="0.50" opacity="0.48"/>
<circle cx="452.1" cy="133.8" r="0.50" opacity="0.64"/>
<circle cx="440.2" cy="110.1" r="0.50" opacity="0.46"/>
<circle cx="439.8" cy="106.4" r="0.50" opacity="0.38"/>
<circle cx="453.7" cy="105.2" r="0.50" opacity="0.45"/>
<circle cx="460.4" cy="120.6" r="0.50" opacity="0.74"/>
<circle cx="453.1" cy="121.7" r="0.50" opacity="0.67"/>
<circle cx="443.0" cy="148.3" r="0.50" opacity="0.49"/>
<circle cx="439.4" cy="124.7" r="0.50" opacity="0.35"/>
<circle cx="451.7" cy="129.5" r="0.50" opacity="0.63"/>
<circle cx="454.6" cy="84.8" r="0.50" opacity="0.30"/>
<circle cx="455.1" cy="123.8" r="0.50" opacity="0.71"/>
<circle cx="442.2" cy="139.4" r="0.50" opacity="0.56"/>
<circle cx="450.3" cy="94.3" r="0.50" opacity="0.39"/>
<circle cx="452.4" cy="94.5" r="0.50" opacity="0.53"/>
<circle cx="449.8" cy="117.7" r="0.50" opacity="0.49"/>
<circle cx="454.4" cy="125.7" r="0.50" opacity="0.36"/>
</g>
<path d="M294 89.5L304 90.5M416 116.5L429 117.5" stroke="#8890ff" stroke-width="1" opacity="0.5"/>
</g>
<g id="panel-b">
<rect x="27.00" y="247.50" width="145.60" height="73.50" fill="#000" />
<rect x="27.00" y="332.20" width="145.60" height="138.80" fill="#000" />
<rect x="182.00" y="247.50" width="146.60" height="73.50" fill="#000" />
<rect x="182.00" y="332.20" width="146.60" height="138.80" fill="#000" />
<rect x="337.50" y="247.50" width="146.70" height="73.50" fill="#000" />
<rect x="337.50" y="332.20" width="146.70" height="138.80" fill="#000" />
<g>
<rect x="70.00" y="258.00" width="60.50" height="54.50" fill="#f0f000" />
<rect x="70.00" y="258.00" width="2.20" height="2.20" fill="#ff9000" />
<rect x="128.30" y="258.00" width="2.20" height="2.20" fill="#ff9000" />
<rect x="70.00" y="310.30" width="2.20" height="2.20" fill="#ff9000" />
<rect x="128.30" y="310.30" width="2.20" height="2.20" fill="#ff9000" />
<rect x="70.30" y="258.30" width="59.90" height="53.90" rx="2.0" ry="2.0" fill="#f4f400"/>
<rect x="70.60" y="258.60" width="59.30" height="53.30" rx="3.0" ry="3.0" fill="#e0f800"/>
<rect x="71.00" y="259.00" width="58.50" height="52.50" rx="4.0" ry="4.0" fill="#b0ff00"/>
<rect x="71.50" y="259.50" width="57.50" height="51.50" rx="5.0" ry="5.0" fill="#10f010"/>
<rect x="73.60" y="261.60" width="53.30" height="47.30" rx="8.0" ry="8.0" fill="#00ffa8"/>
<rect x="75.80" y="263.80" width="48.90" height="42.90" rx="11.0" ry="11.0" fill="#00ffff"/>
<ellipse cx="100.3" cy="285.6" rx="22.5" ry="21" fill="#00b0ff"/>
<ellipse cx="100.3" cy="285.8" rx="15.4" ry="13.6" fill="#0000ff"/>
<rect x="97.5" y="281" width="5" height="1.2" fill="#7090ff" opacity=".7"/>
</g>
<rect x="109.5" y="253.4" width="27.3" height="26.6" fill="none" stroke="#e4e4e4" stroke-width="1.5"/>
<g>
<rect x="215.80" y="265.00" width="81.00" height="40.50" fill="#f0f000" />
<rect x="215.80" y="265.00" width="1.00" height="40.50" fill="#ffb800" />
<rect x="295.80" y="265.00" width="1.00" height="40.50" fill="#ffb800" />
<rect x="215.80" y="265.00" width="2.40" height="2.40" fill="#ff7000" />
<rect x="294.40" y="265.00" width="2.40" height="2.40" fill="#ff7000" />
<rect x="215.80" y="303.10" width="2.40" height="2.40" fill="#ff7000" />
<rect x="294.40" y="303.10" width="2.40" height="2.40" fill="#ff7000" />
<rect x="216.50" y="265.30" width="79.60" height="39.90" rx="2.0" ry="2.0" fill="#f4f400"/>
<rect x="217.00" y="265.60" width="78.60" height="39.30" rx="3.0" ry="3.0" fill="#e8f800"/>
<rect x="217.60" y="266.00" width="77.40" height="38.50" rx="4.0" ry="4.0" fill="#b0ff00"/>
<rect x="218.40" y="266.50" width="75.80" height="37.50" rx="5.0" ry="5.0" fill="#10f010"/>
<rect x="220.60" y="268.00" width="71.40" height="34.50" rx="7.0" ry="7.0" fill="#00ffa8"/>
<rect x="222.80" y="269.60" width="67.00" height="31.30" rx="9.0" ry="9.0" fill="#00ffff"/>
<ellipse cx="256.3" cy="285.4" rx="28.5" ry="15.2" fill="#00b0ff"/>
<ellipse cx="256.3" cy="285.6" rx="19" ry="10.6" fill="#0000ff"/>
<rect x="256" y="283" width="4.5" height="1.2" fill="#7090ff" opacity=".7"/>
</g>
<rect x="276" y="260" width="27" height="27.2" fill="none" stroke="#e4e4e4" stroke-width="1.5"/>
<g>
<rect x="351.80" y="270.80" width="120.70" height="27.40" fill="#ff5000" />
<rect x="352.70" y="270.80" width="118.90" height="27.40" rx="1.0" ry="1.0" fill="#ffb000"/>
<rect x="354.40" y="271.10" width="115.50" height="26.80" rx="2.0" ry="2.0" fill="#ffff00"/>
<rect x="356.20" y="271.40" width="111.90" height="26.20" rx="3.0" ry="3.0" fill="#b0ff00"/>
<rect x="357.60" y="271.80" width="109.10" height="25.40" rx="3.0" ry="3.0" fill="#10f010"/>
<rect x="359.60" y="272.50" width="105.10" height="24.00" rx="4.0" ry="4.0" fill="#00ffa8"/>
<rect x="361.60" y="273.10" width="101.10" height="22.80" rx="5.0" ry="5.0" fill="#00ffff"/>
<rect x="366.30" y="275.00" width="91.70" height="19.00" rx="7.0" ry="7.0" fill="#00b0ff"/>
<polygon points="378.0,284.0 383.5,276.2 441.0,276.2 446.0,283.5 441.0,291.2 383.5,291.2" fill="#0000ff" />
<rect x="411.5" y="281.5" width="5" height="1.6" fill="#7090ff" opacity=".7"/>
</g>
<rect x="452.3" y="266.2" width="27" height="25.2" fill="none" stroke="#e4e4e4" stroke-width="1.5"/>
<clipPath id="cm1"><rect x="27.00" y="345.00" width="132.40" height="126.00"/></clipPath>
<g clip-path="url(#cm1)">
<rect x="27.00" y="345.00" width="132.40" height="126.00" fill="#ff0000" />
<polygon points="140.9,345.1 150.4,353.4 160.4,362.9 160.4,476.0 22.0,476.0 22.0,340.0 140.9,340.0" fill="#ffb000" stroke="#ffb000" stroke-width="0.6" stroke-linejoin="round"/>
<polygon points="118.7,345.1 131.1,349.9 140.0,355.8 149.8,368.9 155.7,382.8 160.4,387.8 160.4,476.0 22.0,476.0 22.0,340.0 118.7,340.0" fill="#ffff00" stroke="#ffff00" stroke-width="0.6" stroke-linejoin="round"/>
<polygon points="69.8,345.1 94.1,346.9 110.4,350.5 123.7,358.2 134.1,368.9 143.9,384.3 150.4,405.0 153.9,431.7 155.7,452.4 156.9,471.7 156.9,476.0 22.0,476.0 22.0,340.0 69.8,340.0" fill="#b0ff00" stroke="#b0ff00" stroke-width="0.6" stroke-linejoin="round"/>
<polygon points="25.3,356.1 58.5,356.4 85.2,359.4 105.9,365.3 119.3,373.9 129.0,385.7 137.0,402.6 143.0,425.7 146.8,452.4 148.3,471.7 148.3,476.0 22.0,476.0 22.0,356.1" fill="#10f010" stroke="#10f010" stroke-width="0.6" stroke-linejoin="round"/>
<polygon points="25.3,369.4 52.6,370.0 76.3,373.6 97.6,380.7 110.4,390.2 120.1,402.6 126.7,419.8 132.6,442.0 137.0,461.3 138.8,471.7 138.8,476.0 22.0,476.0 22.0,369.4" fill="#00ffa8" stroke="#00ffa8" stroke-width="0.6" stroke-linejoin="round"/>
<polygon points="25.3,385.7 49.6,386.0 70.4,389.6 87.6,396.1 99.4,406.5 107.4,417.4 113.3,434.6 117.8,455.4 120.7,471.7 120.7,476.0 22.0,476.0 22.0,385.7" fill="#00ffff" stroke="#00ffff" stroke-width="0.6" stroke-linejoin="round"/>
<polygon points="25.3,410.9 36.3,413.0 48.1,420.4 61.5,431.1 74.8,442.0 82.8,453.0 86.7,462.8 89.0,471.7 89.0,476.0 22.0,476.0 22.0,410.9" fill="#00b0ff" stroke="#00b0ff" stroke-width="0.6" stroke-linejoin="round"/>
</g>
<clipPath id="cm2"><rect x="182.00" y="345.00" width="133.80" height="126.00"/></clipPath>
<g clip-path="url(#cm2)">
<rect x="182.00" y="345.00" width="133.80" height="126.00" fill="#ff0000" />
<polygon points="304.8,345.1 309.8,354.0 316.6,364.1 316.6,476.0 177.0,476.0 177.0,340.0 304.8,340.0" fill="#ffb000" stroke="#ffb000" stroke-width="0.6" stroke-linejoin="round"/>
<polygon points="292.9,345.1 300.9,353.4 306.9,364.1 311.3,379.8 314.3,393.1 316.6,400.6 316.6,476.0 177.0,476.0 177.0,340.0 292.9,340.0" fill="#ffff00" stroke="#ffff00" stroke-width="0.6" stroke-linejoin="round"/>
<polygon points="272.2,345.1 284.6,349.9 293.5,356.1 300.9,369.4 305.4,387.2 307.7,410.9 309.2,443.5 310.1,471.7 310.1,476.0 177.0,476.0 177.0,340.0 272.2,340.0" fill="#b0ff00" stroke="#b0ff00" stroke-width="0.6" stroke-linejoin="round"/>
<polygon points="232.8,345.1 255.0,347.5 271.3,351.7 283.1,358.2 290.6,368.9 295.9,385.7 298.9,410.9 300.9,443.5 301.8,471.7 301.8,476.0 177.0,476.0 177.0,340.0 232.8,340.0" fill="#10f010" stroke="#10f010" stroke-width="0.6" stroke-linejoin="round"/>
<polygon points="180.3,354.6 219.4,354.6 246.1,357.0 263.9,361.7 275.1,370.0 281.7,382.8 286.1,402.6 289.1,431.7 291.1,455.4 292.3,471.7 292.3,476.0 177.0,476.0 177.0,354.6" fill="#00ffa8" stroke="#00ffa8" stroke-width="0.6" stroke-linejoin="round"/>
<polygon points="180.3,366.5 213.5,366.8 238.7,369.4 256.5,374.8 266.9,384.3 272.8,397.6 276.3,419.8 277.8,449.4 279.3,471.7 279.3,476.0 177.0,476.0 177.0,366.5" fill="#00ffff" stroke="#00ffff" stroke-width="0.6" stroke-linejoin="round"/>
<polygon points="180.3,382.8 197.2,383.1 210.6,386.6 223.9,394.9 232.8,408.0 239.6,422.8 243.7,442.0 246.1,458.3 246.7,471.7 246.7,476.0 177.0,476.0 177.0,382.8" fill="#00b0ff" stroke="#00b0ff" stroke-width="0.6" stroke-linejoin="round"/>
<polygon points="180.3,425.1 183.3,429.3 188.3,443.5 195.1,460.7 192.8,471.7 180.3,471.7" fill="#0000ff" />
</g>
<clipPath id="cm3"><rect x="337.50" y="345.00" width="135.30" height="126.00"/></clipPath>
<g clip-path="url(#cm3)">
<rect x="337.50" y="345.00" width="135.30" height="126.00" fill="#ff0000" />
<polygon points="463.9,345.1 466.3,357.6 468.4,375.4 469.6,402.0 469.6,437.6 468.7,471.7 468.7,476.0 332.5,476.0 332.5,340.0 463.9,340.0" fill="#ffb000" stroke="#ffb000" stroke-width="0.6" stroke-linejoin="round"/>
<polygon points="456.2,345.1 459.8,357.6 462.4,375.4 463.9,402.0 464.5,437.6 464.8,471.7 464.8,476.0 332.5,476.0 332.5,340.0 456.2,340.0" fill="#ffff00" stroke="#ffff00" stroke-width="0.6" stroke-linejoin="round"/>
<polygon points="444.4,345.1 449.1,353.4 453.3,365.0 456.2,384.3 457.4,413.9 458.3,443.5 459.2,471.7 459.2,476.0 332.5,476.0 332.5,340.0 444.4,340.0" fill="#b0ff00" stroke="#b0ff00" stroke-width="0.6" stroke-linejoin="round"/>
<polygon points="427.2,345.1 434.3,349.9 441.1,358.2 445.6,370.9 448.5,390.2 450.3,413.9 450.3,446.5 449.1,471.7 449.1,476.0 332.5,476.0 332.5,340.0 427.2,340.0" fill="#10f010" stroke="#10f010" stroke-width="0.6" stroke-linejoin="round"/>
<polygon points="381.0,345.1 393.7,347.2 410.0,350.5 423.3,356.4 432.2,367.1 439.0,390.2 441.4,416.9 440.5,446.5 437.3,464.3 434.9,471.7 434.9,476.0 332.5,476.0 332.5,340.0 381.0,340.0" fill="#00ffa8" stroke="#00ffa8" stroke-width="0.6" stroke-linejoin="round"/>
</g>
<g clip-path="url(#cm3)">
<polygon points="335.3,352.3 359.6,351.7 383.3,354.0 401.1,358.2 410.6,366.5 416.5,378.3 420.1,399.1 420.1,425.7 418.3,446.5 414.1,458.9 401.1,464.3 383.3,467.8 365.6,471.1 335.3,472.6" fill="#00ffff" />
<polygon points="335.3,369.4 347.8,369.4 368.5,375.4 388.1,381.3 389.3,396.1 391.0,413.9 389.3,431.7 388.1,452.4 374.4,457.7 356.7,463.7 335.3,466.6" fill="#00b0ff" />
</g>
<linearGradient id="vg1" x1="0" y1="0" x2="1" y2="0"><stop offset="0.0000" stop-color="#0000ff"/><stop offset="0.1101" stop-color="#0000ff"/><stop offset="0.1121" stop-color="#00b0ff"/><stop offset="0.2212" stop-color="#00b0ff"/><stop offset="0.2232" stop-color="#00ffff"/><stop offset="0.3323" stop-color="#00ffff"/><stop offset="0.3343" stop-color="#00ffa8"/><stop offset="0.4434" stop-color="#00ffa8"/><stop offset="0.4455" stop-color="#10f010"/><stop offset="0.5545" stop-color="#10f010"/><stop offset="0.5566" stop-color="#b0ff00"/><stop offset="0.6657" stop-color="#b0ff00"/><stop offset="0.6677" stop-color="#ffff00"/><stop offset="0.7768" stop-color="#ffff00"/><stop offset="0.7788" stop-color="#ffb000"/><stop offset="0.8879" stop-color="#ffb000"/><stop offset="0.8899" stop-color="#ff0000"/><stop offset="1.0000" stop-color="#ff0000"/></linearGradient>
<rect x="53.80" y="478.00" width="394.20" height="7.50" fill="url(#vg1)" />
<text x="51" y="501.7" class="cb">-20</text>
<text x="125" y="501.7" class="cb">0</text>
<text x="198.5" y="501.7" class="cb">20</text>
<text x="280" y="501.7" class="cb">40</text>
<text x="349.5" y="501.7" class="cb">60</text>
<text x="416" y="501.7" class="cb">80</text>
<text x="459" y="501.7" class="cb">90</text>
</g>
<g id="panel-c">
<rect x="525.00" y="0.00" width="150.60" height="96.20" fill="#000" />
<rect x="525.00" y="104.60" width="150.60" height="96.70" fill="#000" />
<rect x="683.80" y="0.00" width="150.00" height="96.20" fill="#000" />
<rect x="683.80" y="104.60" width="150.00" height="96.70" fill="#000" />
<rect x="841.60" y="0.00" width="150.90" height="96.20" fill="#000" />
<rect x="841.60" y="104.60" width="150.90" height="96.70" fill="#000" />
<linearGradient id="vg2" x1="0" y1="0" x2="1" y2="0"><stop offset="0.0000" stop-color="#ffc400"/><stop offset="0.0352" stop-color="#ffc400"/><stop offset="0.1022" stop-color="#fff000"/><stop offset="0.1772" stop-color="#fff000"/><stop offset="0.2442" stop-color="#c8f800"/><stop offset="0.2917" stop-color="#c8f800"/><stop offset="0.3587" stop-color="#84f400"/><stop offset="0.4077" stop-color="#84f400"/><stop offset="0.4747" stop-color="#10f000"/><stop offset="0.5222" stop-color="#10f000"/><stop offset="0.5892" stop-color="#00ff70"/><stop offset="0.6383" stop-color="#00ff70"/><stop offset="0.7052" stop-color="#00ffb4"/><stop offset="0.7406" stop-color="#00ffb4"/><stop offset="0.8075" stop-color="#00fcf4"/><stop offset="0.8673" stop-color="#00fcf4"/><stop offset="0.9342" stop-color="#00d0ff"/><stop offset="1.0000" stop-color="#00d0ff"/></linearGradient>
<rect x="566.30" y="22.50" width="65.70" height="63.30" fill="url(#vg2)" />
<rect x="598.6" y="12.4" width="65" height="42.4" fill="none" stroke="#e2e2e2" stroke-width="1.5"/>
<linearGradient id="vg3" x1="0" y1="0" x2="1" y2="0"><stop offset="0.0000" stop-color="#ffa000"/><stop offset="0.0349" stop-color="#ffa000"/><stop offset="0.0872" stop-color="#ffd000"/><stop offset="0.0872" stop-color="#ffd000"/><stop offset="0.1395" stop-color="#fff000"/><stop offset="0.2198" stop-color="#fff000"/><stop offset="0.2755" stop-color="#c8f800"/><stop offset="0.3175" stop-color="#c8f800"/><stop offset="0.3732" stop-color="#84f400"/><stop offset="0.4256" stop-color="#84f400"/><stop offset="0.4813" stop-color="#10f000"/><stop offset="0.5233" stop-color="#10f000"/><stop offset="0.5790" stop-color="#00ff70"/><stop offset="0.6303" stop-color="#00ff70"/><stop offset="0.6860" stop-color="#00ffb4"/><stop offset="0.7280" stop-color="#00ffb4"/><stop offset="0.7837" stop-color="#00fcf4"/><stop offset="0.8349" stop-color="#00fcf4"/><stop offset="0.8906" stop-color="#00d0ff"/><stop offset="0.9140" stop-color="#00d0ff"/><stop offset="0.9697" stop-color="#009cff"/><stop offset="1.0000" stop-color="#009cff"/></linearGradient>
<rect x="716.30" y="30.50" width="86.20" height="47.00" fill="url(#vg3)" />
<rect x="759.2" y="12.4" width="64.6" height="42.4" fill="none" stroke="#e2e2e2" stroke-width="1.5"/>
<linearGradient id="vg4" x1="0" y1="0" x2="1" y2="0"><stop offset="0.0000" stop-color="#ff1800"/><stop offset="0.0031" stop-color="#ff1800"/><stop offset="0.0347" stop-color="#ff6000"/><stop offset="0.0347" stop-color="#ff6000"/><stop offset="0.0664" stop-color="#ffa800"/><stop offset="0.0784" stop-color="#ffa800"/><stop offset="0.1185" stop-color="#ffd400"/><stop offset="0.1479" stop-color="#ffd400"/><stop offset="0.1880" stop-color="#f8f800"/><stop offset="0.2405" stop-color="#f8f800"/><stop offset="0.2807" stop-color="#c8f800"/><stop offset="0.3332" stop-color="#c8f800"/><stop offset="0.3734" stop-color="#84f400"/><stop offset="0.4317" stop-color="#84f400"/><stop offset="0.4718" stop-color="#10f000"/><stop offset="0.5243" stop-color="#10f000"/><stop offset="0.5645" stop-color="#00ff70"/><stop offset="0.6228" stop-color="#00ff70"/><stop offset="0.6629" stop-color="#00ffb4"/><stop offset="0.7154" stop-color="#00ffb4"/><stop offset="0.7556" stop-color="#00fcf4"/><stop offset="0.8081" stop-color="#00fcf4"/><stop offset="0.8483" stop-color="#00d0ff"/><stop offset="0.8776" stop-color="#00d0ff"/><stop offset="0.9178" stop-color="#0098ff"/><stop offset="0.9355" stop-color="#0098ff"/><stop offset="0.9757" stop-color="#0010ff"/><stop offset="1.0000" stop-color="#0010ff"/></linearGradient>
<rect x="853.50" y="38.30" width="129.50" height="31.70" fill="url(#vg4)" />
<rect x="918.4" y="12.4" width="70.6" height="42.4" fill="none" stroke="#e2e2e2" stroke-width="1.5"/>
<rect x="632.5" y="18.5" width="4.5" height="1.2" fill="#9a9a9a" opacity=".8"/>
<rect x="803.5" y="34.5" width="4.5" height="1.2" fill="#9a9a9a" opacity=".8"/>
<rect x="984.5" y="50.5" width="4.5" height="1.2" fill="#9a9a9a" opacity=".8"/>
<rect x="568" y="82.5" width="4.5" height="1.2" fill="#9a9a9a" opacity=".8"/>
<rect x="717.5" y="66" width="4.5" height="1.2" fill="#9a9a9a" opacity=".8"/>
<rect x="855" y="50" width="4.5" height="1.2" fill="#9a9a9a" opacity=".8"/>
<linearGradient id="vg5" x1="0" y1="0" x2="1" y2="0"><stop offset="0.0000" stop-color="#14f000"/><stop offset="0.1167" stop-color="#14f000"/><stop offset="0.1333" stop-color="#00ff70"/><stop offset="0.3417" stop-color="#00ff70"/><stop offset="0.3583" stop-color="#00ffb4"/><stop offset="0.5583" stop-color="#00ffb4"/><stop offset="0.5750" stop-color="#00fff0"/><stop offset="0.7750" stop-color="#00fff0"/><stop offset="0.7917" stop-color="#00d8ff"/><stop offset="0.9083" stop-color="#00d8ff"/><stop offset="0.9250" stop-color="#00a8ff"/><stop offset="1.0000" stop-color="#00a8ff"/></linearGradient>
<rect x="525.00" y="141.30" width="60.00" height="60.00" fill="url(#vg5)" />
<linearGradient id="vg6" x1="0" y1="0" x2="1" y2="0"><stop offset="0.0000" stop-color="#14f000"/><stop offset="0.1035" stop-color="#14f000"/><stop offset="0.1162" stop-color="#00ff70"/><stop offset="0.2992" stop-color="#00ff70"/><stop offset="0.3119" stop-color="#00ffb4"/><stop offset="0.4886" stop-color="#00ffb4"/><stop offset="0.5013" stop-color="#00fff0"/><stop offset="0.6780" stop-color="#00fff0"/><stop offset="0.6907" stop-color="#00d8ff"/><stop offset="0.8422" stop-color="#00d8ff"/><stop offset="0.8548" stop-color="#00a8ff"/><stop offset="0.9306" stop-color="#00a8ff"/><stop offset="0.9432" stop-color="#0078ff"/><stop offset="1.0000" stop-color="#0078ff"/></linearGradient>
<rect x="683.80" y="157.50" width="79.20" height="43.80" fill="url(#vg6)" />
<linearGradient id="vg7" x1="0" y1="0" x2="1" y2="0"><stop offset="0.0000" stop-color="#14f000"/><stop offset="0.0924" stop-color="#14f000"/><stop offset="0.1007" stop-color="#00ff70"/><stop offset="0.2855" stop-color="#00ff70"/><stop offset="0.2938" stop-color="#00ffb4"/><stop offset="0.4786" stop-color="#00ffb4"/><stop offset="0.4870" stop-color="#00fff0"/><stop offset="0.6465" stop-color="#00fff0"/><stop offset="0.6549" stop-color="#00d8ff"/><stop offset="0.7977" stop-color="#00d8ff"/><stop offset="0.8060" stop-color="#00a8ff"/><stop offset="0.9068" stop-color="#00a8ff"/><stop offset="0.9152" stop-color="#0070ff"/><stop offset="0.9572" stop-color="#0070ff"/><stop offset="0.9656" stop-color="#0000ff"/><stop offset="1.0000" stop-color="#0000ff"/></linearGradient>
<rect x="841.60" y="171.80" width="119.70" height="29.50" fill="url(#vg7)" />
<text x="586" y="139.2" font-size="4" fill="#c8c8c8" font-family="Liberation Sans, sans-serif">MX</text>
<text x="764" y="169.5" font-size="4" fill="#c8c8c8" font-family="Liberation Sans, sans-serif">MX</text>
<text x="962" y="198.5" font-size="4" fill="#c8c8c8" font-family="Liberation Sans, sans-serif">MX</text>
<linearGradient id="vg8" x1="0" y1="0" x2="1" y2="0"><stop offset="0.0000" stop-color="#0000ff"/><stop offset="0.0657" stop-color="#0000ff"/><stop offset="0.0677" stop-color="#0070ff"/><stop offset="0.1323" stop-color="#0070ff"/><stop offset="0.1343" stop-color="#00a8ff"/><stop offset="0.1990" stop-color="#00a8ff"/><stop offset="0.2010" stop-color="#00d8ff"/><stop offset="0.2657" stop-color="#00d8ff"/><stop offset="0.2677" stop-color="#00fff0"/><stop offset="0.3323" stop-color="#00fff0"/><stop offset="0.3343" stop-color="#00ffb4"/><stop offset="0.3990" stop-color="#00ffb4"/><stop offset="0.4010" stop-color="#00ff70"/><stop offset="0.4657" stop-color="#00ff70"/><stop offset="0.4677" stop-color="#14f000"/><stop offset="0.5323" stop-color="#14f000"/><stop offset="0.5343" stop-color="#80f400"/><stop offset="0.5990" stop-color="#80f400"/><stop offset="0.6010" stop-color="#c4f800"/><stop offset="0.6657" stop-color="#c4f800"/><stop offset="0.6677" stop-color="#f4f800"/><stop offset="0.7323" stop-color="#f4f800"/><stop offset="0.7343" stop-color="#ffd800"/><stop offset="0.7990" stop-color="#ffd800"/><stop offset="0.8010" stop-color="#ffb000"/><stop offset="0.8657" stop-color="#ffb000"/><stop offset="0.8677" stop-color="#ff7800"/><stop offset="0.9323" stop-color="#ff7800"/><stop offset="0.9343" stop-color="#ff0000"/><stop offset="1.0000" stop-color="#ff0000"/></linearGradient>
<rect x="561.20" y="210.00" width="394.80" height="5.50" fill="url(#vg8)" />
<text x="554" y="231.2" class="cb">-38</text>
<text x="657.5" y="231.2" class="cb">-20</text>
<text x="758.8" y="231.2" class="cb">0</text>
<text x="867.5" y="231.2" class="cb">20</text>
<text x="962.5" y="231.2" class="cb">38</text>
</g>
<g id="panel-d">
<path d="M576.80 274.5V452.50H744.20" stroke="#b0b0b0" stroke-width="1" fill="none"/>
<path d="M576.80 452.50h-3.5M576.80 417.05h-3.5M576.80 381.60h-3.5M576.80 346.15h-3.5M576.80 310.70h-3.5M576.80 275.25h-3.5M576.80 452.50v3.5M632.60 452.50v3.5M688.40 452.50v3.5M744.20 452.50v3.5" stroke="#b0b0b0" stroke-width="1" fill="none"/>
<text x="557.0" y="457.0" class="tk">20</text>
<text x="557.0" y="421.6" class="tk">30</text>
<text x="557.0" y="386.1" class="tk">40</text>
<text x="557.0" y="350.6" class="tk">50</text>
<text x="557.0" y="315.2" class="tk">60</text>
<text x="557.0" y="279.8" class="tk">70</text>
<text x="576.8" y="476.2" class="tk">20</text>
<text x="632.6" y="476.2" class="tk">40</text>
<text x="688.4" y="476.2" class="tk">60</text>
<text x="744.2" y="476.2" class="tk">80</text>
<text x="661.0" y="262.3" class="ttl">Soft</text>
<text x="661.0" y="501.2" class="axl">Pattern width (µm)</text>
<text transform="translate(536.5 362) rotate(-90)" class="axl ayl">Traction stress (Pa)</text>
<polyline points="604.7,392.2 632.6,404.6 646.5,411.0 660.5,416.0 688.4,424.5" fill="none" stroke="#4a7ebb" stroke-width="2.6" stroke-linejoin="round"/>
<polygon points="604.7,386.8 610.1,392.2 604.7,397.6 599.3,392.2" fill="#4a7ebb" />
<polygon points="632.6,399.2 638.0,404.6 632.6,410.0 627.2,404.6" fill="#4a7ebb" />
<polygon points="646.5,405.6 651.9,411.0 646.5,416.4 641.1,411.0" fill="#4a7ebb" />
<polygon points="660.5,410.6 665.9,416.0 660.5,421.4 655.1,416.0" fill="#4a7ebb" />
<polygon points="688.4,419.1 693.8,424.5 688.4,429.9 683.0,424.5" fill="#4a7ebb" />
<polyline points="604.7,383.0 632.6,389.8 646.5,394.0 660.5,398.6 688.4,406.1" fill="none" stroke="#be4b48" stroke-width="2.6" stroke-linejoin="round"/>
<rect x="599.40" y="377.72" width="10.60" height="10.60" fill="#be4b48" />
<rect x="627.30" y="384.45" width="10.60" height="10.60" fill="#be4b48" />
<rect x="641.25" y="388.71" width="10.60" height="10.60" fill="#be4b48" />
<rect x="655.20" y="393.32" width="10.60" height="10.60" fill="#be4b48" />
<rect x="683.10" y="400.76" width="10.60" height="10.60" fill="#be4b48" />
<path d="M691.0 319.5h28.5" stroke="#4a7ebb" stroke-width="2.2"/>
<polygon points="705.2,316.1 708.6,319.5 705.2,322.9 701.8,319.5" fill="#4a7ebb" />
<text x="722.0" y="323.5" class="lg">DC1</text>
<path d="M691.0 344.5h28.5" stroke="#be4b48" stroke-width="2.2"/>
<rect x="701.90" y="341.20" width="6.60" height="6.60" fill="#be4b48" />
<text x="722.0" y="348.5" class="lg">DC2</text>
<path d="M818.80 274.5V452.50H991.30" stroke="#b0b0b0" stroke-width="1" fill="none"/>
<path d="M818.80 452.50h-3.5M818.80 417.05h-3.5M818.80 381.60h-3.5M818.80 346.15h-3.5M818.80 310.70h-3.5M818.80 275.25h-3.5M818.80 452.50v3.5M876.30 452.50v3.5M933.80 452.50v3.5M991.30 452.50v3.5" stroke="#b0b0b0" stroke-width="1" fill="none"/>
<text x="797.5" y="457.0" class="tk">20</text>
<text x="797.5" y="421.6" class="tk">30</text>
<text x="797.5" y="386.1" class="tk">40</text>
<text x="797.5" y="350.6" class="tk">50</text>
<text x="797.5" y="315.2" class="tk">60</text>
<text x="797.5" y="279.8" class="tk">70</text>
<text x="818.8" y="476.2" class="tk">20</text>
<text x="876.3" y="476.2" class="tk">40</text>
<text x="933.8" y="476.2" class="tk">60</text>
<text x="991.3" y="476.2" class="tk">80</text>
<text x="904.0" y="262.3" class="ttl">Stiff</text>
<text x="905.5" y="501.2" class="axl">Pattern width (µm)</text>
<text transform="translate(776.2 362) rotate(-90)" class="axl ayl">Traction stress (Pa)</text>
<polyline points="847.5,304.3 876.3,325.6 890.7,336.2 905.0,345.1 933.8,358.2" fill="none" stroke="#4a7ebb" stroke-width="2.6" stroke-linejoin="round"/>
<polygon points="847.5,298.9 852.9,304.3 847.5,309.7 842.1,304.3" fill="#4a7ebb" />
<polygon points="876.3,320.2 881.7,325.6 876.3,331.0 870.9,325.6" fill="#4a7ebb" />
<polygon points="890.7,330.8 896.1,336.2 890.7,341.6 885.3,336.2" fill="#4a7ebb" />
<polygon points="905.0,339.7 910.4,345.1 905.0,350.5 899.6,345.1" fill="#4a7ebb" />
<polygon points="933.8,352.8 939.2,358.2 933.8,363.6 928.4,358.2" fill="#4a7ebb" />
<polyline points="847.5,288.4 876.3,300.8 890.7,308.2 905.0,314.6 933.8,327.7" fill="none" stroke="#be4b48" stroke-width="2.6" stroke-linejoin="round"/>
<rect x="842.25" y="283.07" width="10.60" height="10.60" fill="#be4b48" />
<rect x="871.00" y="295.47" width="10.60" height="10.60" fill="#be4b48" />
<rect x="885.38" y="302.92" width="10.60" height="10.60" fill="#be4b48" />
<rect x="899.75" y="309.30" width="10.60" height="10.60" fill="#be4b48" />
<rect x="928.50" y="322.42" width="10.60" height="10.60" fill="#be4b48" />
<path d="M938.8 390.3h28.5" stroke="#4a7ebb" stroke-width="2.2"/>
<polygon points="953.0,386.9 956.4,390.3 953.0,393.7 949.6,390.3" fill="#4a7ebb" />
<text x="969.8" y="394.3" class="lg">DC1</text>
<path d="M938.8 415.3h28.5" stroke="#be4b48" stroke-width="2.2"/>
<rect x="949.70" y="412.00" width="6.60" height="6.60" fill="#be4b48" />
<text x="969.8" y="419.3" class="lg">DC2</text>
</g>
<text x="-4" y="23" class="pl">a</text>
<text x="1.6" y="270.6" class="pl">b</text>
<text x="498.8" y="23.7" class="pl">c</text>
<text x="495.4" y="270.8" class="pl">d</text>
</g>
</svg>
</body>
</html>
